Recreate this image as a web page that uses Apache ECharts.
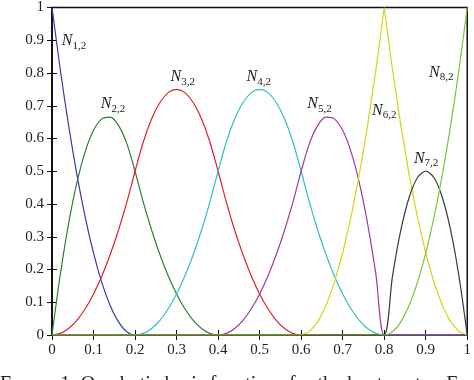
<!DOCTYPE html>
<html>
<head>
<meta charset="utf-8">
<script src="https://cdn.jsdelivr.net/npm/echarts@6/dist/echarts.min.js"></script>
<style>
html,body{margin:0;padding:0;background:#fff;}
#c{width:474px;height:380px;}
</style>
</head>
<body>
<div id="c"></div>
<script>
// x samples (shared by all series)
var xs = [0,0.02,0.04,0.06,0.08,0.1,0.12,0.14,0.16,0.18,0.2,0.22,0.24,0.26,0.28,0.3,0.32,0.34,0.36,0.38,0.4,0.42,0.44,0.46,0.48,0.5,0.52,0.54,0.56,0.58,0.6,0.62,0.64,0.66,0.68,0.7,0.72,0.74,0.76,0.78,0.8,0.82,0.84,0.86,0.88,0.9,0.92,0.94,0.96,0.98,1];

var n1 = [1,0.81,0.64,0.49,0.36,0.25,0.16,0.09,0.04,0.01,0, 0,0,0,0,0,0,0,0,0,0, 0,0,0,0,0,0,0,0,0,0, 0,0,0,0,0,0,0,0,0,0, 0,0,0,0,0,0,0,0,0,0];
var n2 = [0,0.185,0.34,0.465,0.56,0.625,0.66,0.665,0.64,0.585,0.5, 0.405,0.32,0.245,0.18,0.125,0.08,0.045,0.02,0.005,0, 0,0,0,0,0,0,0,0,0,0, 0,0,0,0,0,0,0,0,0,0, 0,0,0,0,0,0,0,0,0,0];
var n3 = [0,0.005,0.02,0.045,0.08,0.125,0.18,0.245,0.32,0.405,0.5, 0.59,0.66,0.71,0.74,0.75,0.74,0.71,0.66,0.59,0.5, 0.405,0.32,0.245,0.18,0.125,0.08,0.045,0.02,0.005,0, 0,0,0,0,0,0,0,0,0,0, 0,0,0,0,0,0,0,0,0,0];
var n4 = [0,0,0,0,0,0,0,0,0,0,0, 0.005,0.02,0.045,0.08,0.125,0.18,0.245,0.32,0.405,0.5, 0.59,0.66,0.71,0.74,0.75,0.74,0.71,0.66,0.59,0.5, 0.405,0.32,0.245,0.18,0.125,0.08,0.045,0.02,0.005,0, 0,0,0,0,0,0,0,0,0,0];
var n5 = [0,0,0,0,0,0,0,0,0,0,0, 0,0,0,0,0,0,0,0,0,0, 0.005,0.02,0.045,0.08,0.125,0.18,0.245,0.32,0.405,0.5, 0.585,0.64,0.665,0.66,0.625,0.56,0.465,0.34,0.185,0, 0,0,0,0,0,0,0,0,0,0];
var n6 = [0,0,0,0,0,0,0,0,0,0,0, 0,0,0,0,0,0,0,0,0,0, 0,0,0,0,0,0,0,0,0,0, 0.01,0.04,0.09,0.16,0.25,0.36,0.49,0.64,0.81,1, 0.81,0.64,0.49,0.36,0.25,0.16,0.09,0.04,0.01,0];
var n7 = [0,0,0,0,0,0,0,0,0,0,0, 0,0,0,0,0,0,0,0,0,0, 0,0,0,0,0,0,0,0,0,0, 0,0,0,0,0,0,0,0,0,0, 0.18,0.32,0.42,0.48,0.5,0.48,0.42,0.32,0.18,0];
var n8 = [0,0,0,0,0,0,0,0,0,0,0, 0,0,0,0,0,0,0,0,0,0, 0,0,0,0,0,0,0,0,0,0, 0,0,0,0,0,0,0,0,0,0, 0.01,0.04,0.09,0.16,0.25,0.36,0.49,0.64,0.81,1];

var seriesNames = ['1,2','2,2','3,2','4,2','5,2','6,2','7,2','8,2'];
var seriesValues = [n1,n2,n3,n4,n5,n6,n7,n8];
// label anchor positions (data coords) for N_{i,2}
var labelX = [0.053,0.147,0.315,0.498,0.644,0.800,0.901,0.9375];
var labelY = [0.897,0.705,0.787,0.787,0.705,0.684,0.538,0.802];
var colors = ['#3a3aa8','#2f7f3a','#e0202a','#30c0c0','#a03aa0','#d6d410','#3a3a3a','#80c040'];
// series with a sharp corner at the double knot keep straight segments
var smoothing = [0.3,0.3,0.3,0.3,0.3,0,0.3,0.3];

var serif = '"Liberation Serif","DejaVu Serif",serif';
function fmt(v){ return String(Math.round(v*10)/10); }

var series = seriesValues.map(function(vals, i){
  return {
    type:'line', name:'N'+seriesNames[i], showSymbol:false, symbol:'none',
    smooth:smoothing[i],
    data: xs.map(function(x,k){ return [x, vals[k]]; }),
    lineStyle:{color:colors[i], width:1.2},
    itemStyle:{color:colors[i]},
    animation:false,
    z: 2+i,
    markPoint:{
      symbol:'circle', symbolSize:0, animation:false,
      data:[{coord:[labelX[i], labelY[i]], value:seriesNames[i]}],
      label:{
        show:true, position:'inside',
        formatter: '{n|N}{s|' + seriesNames[i] + '}',
        rich:{
          n:{fontFamily:serif, fontStyle:'italic', fontSize:16, color:'#222'},
          s:{fontFamily:serif, fontSize:11, color:'#222', padding:[9,0,0,0]}
        }
      }
    }
  };
});

var axisLbl = {color:'#222', fontFamily:serif, fontSize:15};
var option = {
  animation:false,
  grid:{left:52, right:6, top:6, bottom:45, show:true, borderColor:'#111', borderWidth:1.5, backgroundColor:'transparent'},
  xAxis:[{
    type:'value', min:0, max:1, interval:0.1,
    axisLine:{show:true, onZero:false, lineStyle:{color:'#111', width:1.5}},
    axisTick:{show:true, inside:true, length:5, lineStyle:{color:'#111'}},
    splitLine:{show:false},
    axisLabel:Object.assign({margin:8, formatter:fmt}, axisLbl)
  },{
    type:'value', position:'top', min:0, max:1, interval:0.1,
    axisLine:{show:true, lineStyle:{color:'#111', width:1.5}},
    axisTick:{show:true, inside:true, length:5, lineStyle:{color:'#111'}},
    splitLine:{show:false}, axisLabel:{show:false}
  }],
  yAxis:[{
    type:'value', min:0, max:1, interval:0.1,
    axisLine:{show:true, onZero:false, lineStyle:{color:'#111', width:1.5}},
    axisTick:{show:true, inside:true, length:5, lineStyle:{color:'#111'}},
    splitLine:{show:false},
    axisLabel:Object.assign({margin:8, formatter:fmt}, axisLbl)
  },{
    type:'value', position:'right', min:0, max:1, interval:0.1,
    axisLine:{show:true, lineStyle:{color:'#111', width:1.5}},
    axisTick:{show:true, inside:true, length:5, lineStyle:{color:'#111'}},
    splitLine:{show:false}, axisLabel:{show:false}
  }],
  series: series,
  graphic:[{
    type:'text', left:0, top:375,
    style:{
      text:'{c|F}{sc|IGURE} {t|1: Quadratic basis functions for the knot vector. E}',
      rich:{
        c:{fontFamily:serif, fontSize:20, fill:'#222', color:'#222'},
        sc:{fontFamily:serif, fontSize:15, fill:'#222', color:'#222', padding:[4,0,0,0]},
        t:{fontFamily:serif, fontSize:20, fill:'#222', color:'#222'}
      }
    }
  }]
};
var chart = echarts.init(document.getElementById('c'), null, {renderer:'canvas'});
chart.setOption(option);
</script>
</body>
</html>
